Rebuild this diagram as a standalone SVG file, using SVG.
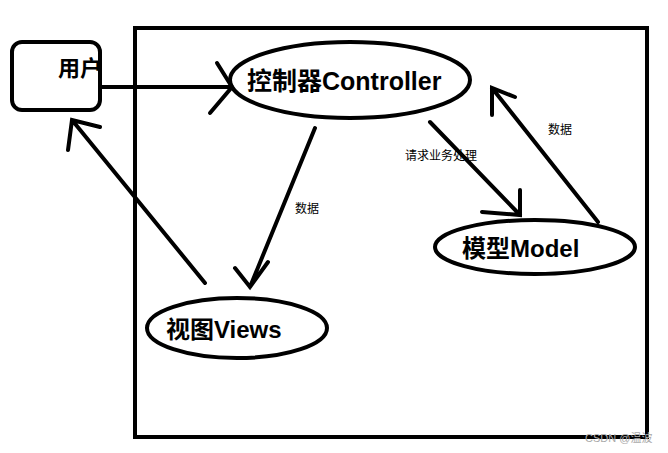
<svg xmlns="http://www.w3.org/2000/svg" width="668" height="453" viewBox="0 0 668 453">
<style>
.s{fill:none;stroke:#000;stroke-width:4;stroke-linecap:round}
.t{font-family:"Liberation Sans","Noto Sans CJK SC",sans-serif;font-weight:bold;fill:#000}
.l{font-family:"Noto Sans CJK SC",sans-serif;font-size:12px;fill:#000}
</style>
<rect width="668" height="453" fill="#fff"/>
<rect x="135" y="28" width="512" height="409" class="s"/>
<g id="user"><rect x="12" y="42" width="88" height="68" rx="10" class="s"/><text x="58" y="76" class="t" font-size="22">用户</text></g>
<g id="controller"><ellipse cx="350" cy="80" rx="120" ry="38" class="s"/><text x="247" y="90" class="t" font-size="25">控制器Controller</text></g>
<g id="model"><ellipse cx="535" cy="247" rx="100" ry="27" class="s"/><text x="462" y="257" class="t" font-size="24">模型Model</text></g>
<g id="views"><ellipse cx="237" cy="328" rx="90" ry="30" class="s"/><text x="166" y="338" class="t" font-size="24">视图Views</text></g>
<g id="connectors" class="s">
<path d="M100 87H232M217 63L232 87L210 113"/>
<path d="M315 128L250 287M235 268L250 287L268 262"/>
<path d="M430 122L520 215M482 212L520 215L520 190"/>
<path d="M598 222L492 88M492 115L492 88L515 97"/>
<path d="M205 283L72 120M68 150L72 120L100 127"/>
</g>
<text x="295" y="213" class="l">数据</text>
<text x="405" y="160" class="l">请求业务处理</text>
<text x="548" y="134" class="l">数据</text>
<text x="585" y="442" font-family="Liberation Sans,Noto Sans CJK SC,sans-serif" font-size="11" fill="#aaa">CSDN @温波</text>
</svg>
